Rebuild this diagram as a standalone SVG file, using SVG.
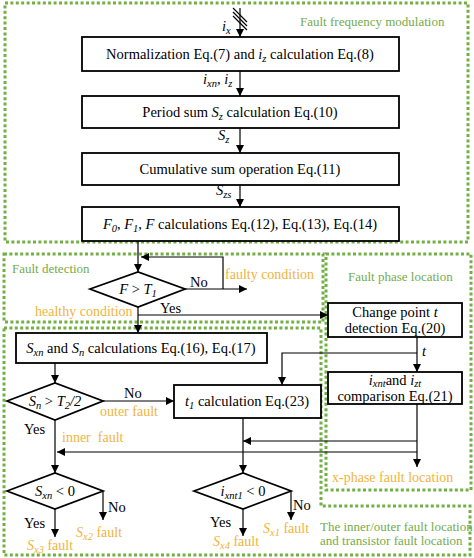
<svg xmlns="http://www.w3.org/2000/svg" width="474" height="558" viewBox="0 0 474 558" font-family="'Liberation Serif', 'DejaVu Serif', serif">
<style>
.box{fill:#fff;stroke:#000;stroke-width:1.8}
.ln{fill:none;stroke:#000;stroke-width:1.2}
.grp{fill:none;stroke:#72b043;stroke-width:3;stroke-dasharray:3 2.4}
.t{font-family:'Liberation Serif','DejaVu Serif',serif;font-size:14.5px;fill:#000}
.c{text-anchor:middle}
.i{font-style:italic}
.s{font-size:10.5px;font-style:italic}
.o{fill:#f0b43c;font-size:14px}
.g{fill:#74ac4c;font-size:13px}
</style>
<defs>
<marker id="ar" viewBox="0 0 10 10" refX="10" refY="5" markerWidth="8" markerHeight="8" markerUnits="userSpaceOnUse" orient="auto">
<path d="M0,0 L10,5 L0,10 Z" fill="#000"/>
</marker>
</defs>

<g id="groups">
<rect class="grp" x="5" y="3" width="463" height="239"/>
<rect class="grp" x="4" y="254" width="319" height="68"/>
<rect class="grp" x="326" y="254" width="145" height="236"/>
<path class="grp" d="M4,328 H321 V506 H470 V555 H4 Z"/>
</g>

<g id="group-labels" class="t">
<text class="g" x="300" y="26">Fault frequency modulation</text>
<text class="g" x="12" y="273">Fault detection</text>
<text class="g" x="348" y="281">Fault phase location</text>
<text class="g" x="320" y="531">The inner/outer fault location</text>
<text class="g" x="320" y="545">and transistor fault location</text>
</g>

<g id="connectors">
<path class="ln" d="M240,8 V37" marker-end="url(#ar)"/>
<path class="ln" d="M233,8 L247,22 M233,12 L247,26 M233,16 L247,30"/>
<path class="ln" d="M240,71 V96" marker-end="url(#ar)"/>
<path class="ln" d="M240,128 V153" marker-end="url(#ar)"/>
<path class="ln" d="M240,185 V207" marker-end="url(#ar)"/>
<path class="ln" d="M138,241 V272" marker-end="url(#ar)"/>
<path class="ln" d="M185,289 H247" marker-end="url(#ar)"/>
<path class="ln" d="M223,289 V257 H141" marker-end="url(#ar)"/>
<path class="ln" d="M138,307 V333" marker-end="url(#ar)"/>
<path class="ln" d="M138,315 H328" marker-end="url(#ar)"/>
<path class="ln" d="M55,363 V383" marker-end="url(#ar)"/>
<path class="ln" d="M103,401 H174" marker-end="url(#ar)"/>
<path class="ln" d="M55,420 V473" marker-end="url(#ar)"/>
<path class="ln" d="M417,337 V372" marker-end="url(#ar)"/>
<path class="ln" d="M417,353 H282 V385" marker-end="url(#ar)"/>
<path class="ln" d="M417,404 V467" marker-end="url(#ar)"/>
<path class="ln" d="M417,441 H243" marker-end="url(#ar)"/>
<path class="ln" d="M417,452 H57" marker-end="url(#ar)"/>
<path class="ln" d="M243,418 V473" marker-end="url(#ar)"/>
<path class="ln" d="M291,491 V520" marker-end="url(#ar)"/>
<path class="ln" d="M243,509 V536" marker-end="url(#ar)"/>
<path class="ln" d="M103,491 V520" marker-end="url(#ar)"/>
<path class="ln" d="M55,509 V537" marker-end="url(#ar)"/>
</g>

<g id="connector-labels" class="t">
<text x="222" y="31"><tspan class="i">i</tspan><tspan class="s" dy="3">x</tspan></text>
<text x="203" y="84"><tspan class="i">i</tspan><tspan class="s" dy="3">xn</tspan><tspan dy="-3">, </tspan><tspan class="i">i</tspan><tspan class="s" dy="3">z</tspan></text>
<text x="218" y="140"><tspan class="i">S</tspan><tspan class="s" dy="3">z</tspan></text>
<text x="216" y="195"><tspan class="i">S</tspan><tspan class="s" dy="3">zs</tspan></text>
<text x="190" y="287">No</text>
<text class="o" x="225" y="279">faulty condition</text>
<text x="160" y="313">Yes</text>
<text class="o" x="35" y="316">healthy condition</text>
<text x="124" y="398">No</text>
<text class="o" x="100" y="416">outer fault</text>
<text x="24" y="434">Yes</text>
<text class="o" x="62" y="442" xml:space="preserve">inner  fault</text>
<text x="108" y="512">No</text>
<text class="o" x="76" y="537"><tspan class="i">S</tspan><tspan class="s" dy="3">x2</tspan><tspan dy="-3"> fault</tspan></text>
<text x="24" y="528">Yes</text>
<text class="o" x="27" y="550"><tspan class="i">S</tspan><tspan class="s" dy="3">x3</tspan><tspan dy="-3"> fault</tspan></text>
<text x="293" y="510">No</text>
<text class="o" x="263" y="533"><tspan class="i">S</tspan><tspan class="s" dy="3">x1</tspan><tspan dy="-3"> fault</tspan></text>
<text x="210" y="527">Yes</text>
<text class="o" x="213" y="546"><tspan class="i">S</tspan><tspan class="s" dy="3">x4</tspan><tspan dy="-3"> fault</tspan></text>
<text class="i" x="422" y="356">t</text>
<text class="o" x="332" y="482">x-phase fault location</text>
</g>

<g id="n-normalization" class="t">
<rect class="box" x="82" y="37" width="317" height="34"/>
<text class="c" x="240" y="59">Normalization Eq.(7) and <tspan class="i">i</tspan><tspan class="s" dy="3">z</tspan><tspan dy="-3"> calculation Eq.(8)</tspan></text>
</g>
<g id="n-period-sum" class="t">
<rect class="box" x="82" y="96" width="317" height="32"/>
<text class="c" x="240" y="117">Period sum <tspan class="i">S</tspan><tspan class="s" dy="3">z</tspan><tspan dy="-3"> calculation Eq.(10)</tspan></text>
</g>
<g id="n-cumsum" class="t">
<rect class="box" x="82" y="153" width="317" height="32"/>
<text class="c" x="240" y="174">Cumulative sum operation Eq.(11)</text>
</g>
<g id="n-f-calc" class="t">
<rect class="box" x="82" y="207" width="317" height="34"/>
<text class="c" x="240" y="229"><tspan class="i">F</tspan><tspan class="s" dy="3">0</tspan><tspan dy="-3">, </tspan><tspan class="i">F</tspan><tspan class="s" dy="3">1</tspan><tspan dy="-3">, </tspan><tspan class="i">F</tspan><tspan>  calculations Eq.(12), Eq.(13), Eq.(14)</tspan></text>
</g>
<g id="n-f-decision" class="t">
<polygon class="box" points="90,289 138,272 185,289 138,307"/>
<text class="c" x="138" y="294"><tspan class="i">F</tspan> &gt; <tspan class="i">T</tspan><tspan class="s" dy="3">1</tspan></text>
</g>
<g id="n-sxn-calc" class="t">
<rect class="box" x="16" y="333" width="251" height="30"/>
<text class="c" x="141" y="353"><tspan class="i">S</tspan><tspan class="s" dy="3">xn</tspan><tspan dy="-3"> and </tspan><tspan class="i">S</tspan><tspan class="s" dy="3">n</tspan><tspan dy="-3"> calculations Eq.(16), Eq.(17)</tspan></text>
</g>
<g id="n-change-point" class="t">
<rect class="box" x="328" y="303" width="134" height="34"/>
<text class="c" x="395" y="317">Change point <tspan class="i">t</tspan></text>
<text class="c" x="395" y="333">detection Eq.(20)</text>
</g>
<g id="n-comparison" class="t">
<rect class="box" x="328" y="372" width="134" height="32"/>
<text class="c" x="395" y="385"><tspan class="i">i</tspan><tspan class="s" dy="2">xnt</tspan><tspan dy="-2">and </tspan><tspan class="i">i</tspan><tspan class="s" dy="2">zt</tspan></text>
<text class="c" x="395" y="401">comparison Eq.(21)</text>
</g>
<g id="n-sn-decision" class="t">
<polygon class="box" points="7,401 55,383 103,401 55,420"/>
<text class="c" x="55" y="406"><tspan class="i">S</tspan><tspan class="s" dy="3">n</tspan><tspan dy="-3"> &gt; </tspan><tspan class="i">T</tspan><tspan class="s" dy="3">2</tspan><tspan dy="-3" class="i">/2</tspan></text>
</g>
<g id="n-t1-calc" class="t">
<rect class="box" x="174" y="385" width="147" height="33"/>
<text class="c" x="247" y="406"><tspan class="i">t</tspan><tspan class="s" dy="3">1</tspan><tspan dy="-3"> calculation Eq.(23)</tspan></text>
</g>
<g id="n-sxn-decision" class="t">
<polygon class="box" points="7,491 55,473 103,491 55,509"/>
<text class="c" x="55" y="496"><tspan class="i">S</tspan><tspan class="s" dy="3">xn</tspan><tspan dy="-3"> &lt; 0</tspan></text>
</g>
<g id="n-ixnt1-decision" class="t">
<polygon class="box" points="194,491 243,473 291,491 243,509"/>
<text class="c" x="243" y="496"><tspan class="i">i</tspan><tspan class="s" dy="3">xnt1</tspan><tspan dy="-3"> &lt; 0</tspan></text>
</g>
</svg>
